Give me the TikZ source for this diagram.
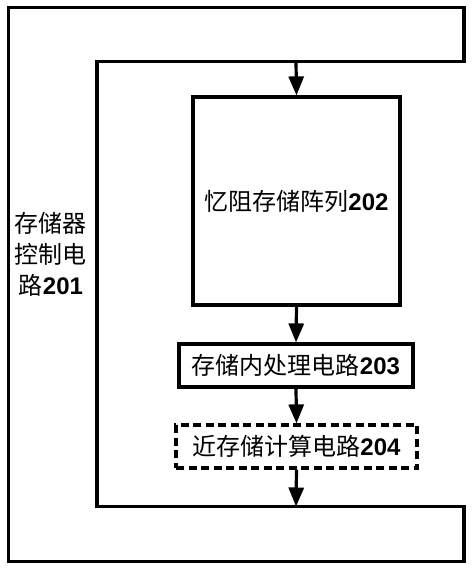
\documentclass[tikz,border=0pt]{standalone}
\usepackage{fontspec}
\setmainfont{Noto Sans CJK SC}
\newfontfamily\digitfont{Liberation Sans}[BoldFont={Liberation Sans Bold}]
\usetikzlibrary{arrows.meta}
\newcommand{\dg}[1]{{\digitfont\bfseries #1}}
\begin{document}
\begin{tikzpicture}[x=1pt,y=-1pt,
  frame/.style={line width=3.2pt,line join=miter},
  box/.style={draw,line width=3.2pt,inner sep=0pt,font=\fontsize{24}{28}\selectfont},
  dbox/.style={box,dash pattern=on 8pt off 4.5pt},
  arr/.style={line width=3.2pt,-{Triangle[length=19pt,width=15pt]}}]
\useasboundingbox (0,0) rectangle (474,571);
\draw[frame] (8.5,7.5) -- (464,7.5) -- (464,61.5) -- (97,61.5) -- (97,506.5) -- (464,506.5) -- (464,561.5) -- (8.5,561.5) -- cycle;
\node[box,minimum width=207pt,minimum height=208pt] (m202) at (296.5,201) {忆阻存储阵列\dg{202}};
\node[box,minimum width=234pt,minimum height=43pt] (m203) at (296,365.5) {存储内处理电路\dg{203}};
\node[dbox,minimum width=241pt,minimum height=43pt] (m204) at (296.5,446.5) {近存储计算电路\dg{204}};
\node[font=\fontsize{24}{31}\selectfont,align=center,inner sep=0pt] (m201) at (51,254) {存储器\\控制电\\路\dg{201}};
\coordinate (ctop) at (296,61.5);
\coordinate (cbot) at (296,506.5);
\draw[arr] (ctop) -- (m202.north);
\draw[arr] (m202.south) -- (m203.north);
\draw[arr] (m203.south) -- (m204.north);
\draw[arr] (m204.south) -- (cbot);
\end{tikzpicture}
\end{document}
